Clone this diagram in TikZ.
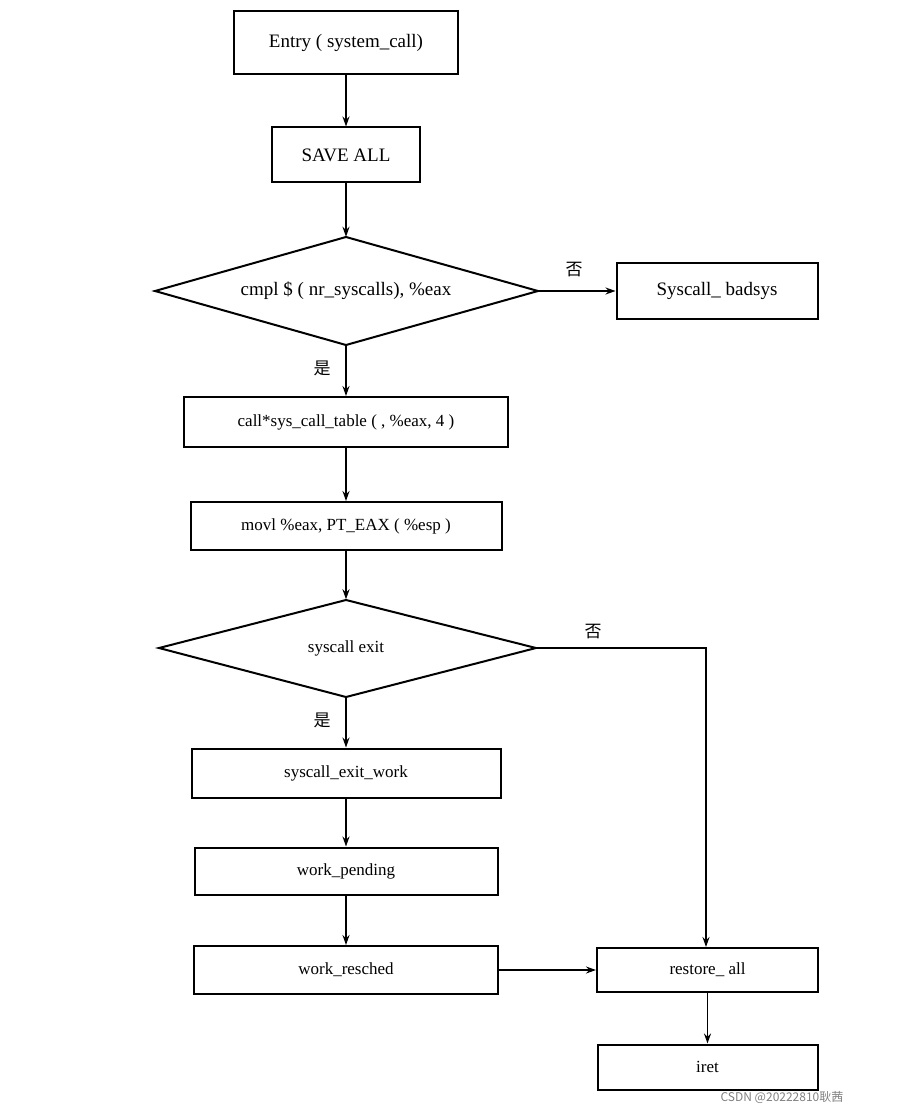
\documentclass[tikz,border=0pt]{standalone}
\usepackage{fontspec}
\setmainfont{Liberation Serif}
\newfontfamily\cjk{Noto Sans CJK SC}
\usetikzlibrary{arrows.meta}
\begin{document}
\begin{tikzpicture}[x=1pt,y=-1pt,
  box/.style={draw,line width=2pt,minimum width=#1,inner sep=0pt,font=\fontsize{17}{19}\selectfont},
  dia/.style={minimum width=#1,inner sep=0pt,font=\fontsize{17}{19}\selectfont},
  arr/.style={line width=1.6pt,-{Stealth[length=10pt,width=7pt]}},
  lab/.style={font=\cjk\fontsize{17}{19}\selectfont}]
\useasboundingbox (0,0) rectangle (902,1115);
\node[box=224pt,minimum height=63pt,font=\fontsize{19}{21}\selectfont] (entry) at (346,43) {Entry ( system\_call)};
\node[box=148pt,minimum height=55pt,font=\fontsize{19}{21}\selectfont] (save) at (346,155) {SAVE ALL};
\draw[line width=2pt] (155,291)--(346,237)--(538,291)--(346,345)--cycle;
\node[dia=383pt,minimum height=108pt,font=\fontsize{19}{21}\selectfont] (d1) at (346,291) {cmpl \$ ( nr\_syscalls), \%eax};
\node[box=201pt,minimum height=56pt,font=\fontsize{19}{21}\selectfont] (bad) at (717,291) {Syscall\_ badsys};
\node[box=324pt,minimum height=50pt] (call) at (346,422) {call*sys\_call\_table ( , \%eax, 4 )};
\node[box=311pt,minimum height=48pt] (movl) at (346,526) {movl \%eax, PT\_EAX ( \%esp )};
\draw[line width=2pt] (159,648)--(346,600)--(536,648)--(346,697)--cycle;
\node[dia=377pt,minimum height=97pt] (d2) at (346,648) {syscall exit};
\node[box=309pt,minimum height=49pt] (sew) at (346,773) {syscall\_exit\_work};
\node[box=303pt,minimum height=47pt] (wp) at (346,871) {work\_pending};
\node[box=304pt,minimum height=48pt] (wr) at (346,970) {work\_resched};
\node[box=221pt,minimum height=44pt] (ra) at (707.5,970) {restore\_ all};
\node[box=220pt,minimum height=45pt] (iret) at (707.5,1067) {iret};
\coordinate (c1) at (706,648);
\draw[arr] (entry.south)--(save.north);
\draw[arr] (save.south)--(d1.north);
\draw[arr] (d1.east)--(bad.west);
\draw[arr] (d1.south)--(call.north);
\draw[arr] (call.south)--(movl.north);
\draw[arr] (movl.south)--(d2.north);
\draw[arr] (d2.south)--(sew.north);
\draw[arr] (sew.south)--(wp.north);
\draw[arr] (wp.south)--(wr.north);
\draw[arr] (wr.east)--(ra.west);
\draw[arr] (d2.east)--(c1)--(c1|-ra.north);
\draw[arr] (ra.south)--(iret.north);
\node[lab] at (574,270) {否};
\node[lab] at (322,368) {是};
\node[lab] at (593,632) {否};
\node[lab] at (322,720) {是};
\node[font=\cjk\fontsize{12}{14}\selectfont,text=gray] at (782,1097) {CSDN @20222810耿茜};
\end{tikzpicture}
\end{document}
